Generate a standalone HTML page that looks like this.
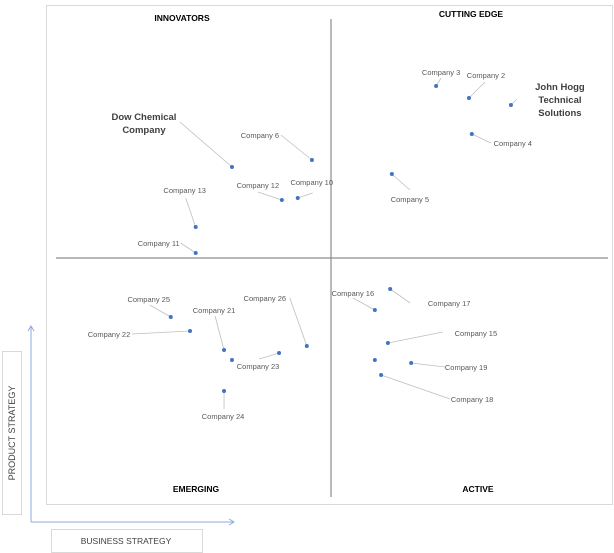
<!DOCTYPE html>
<html><head><meta charset="utf-8"><style>
body{margin:0;background:#fff;width:614px;height:553px;overflow:hidden;font-family:"Liberation Sans",sans-serif}
svg{display:block}
</style></head><body>
<svg id="chart" width="614" height="553" viewBox="0 0 614 553" xmlns="http://www.w3.org/2000/svg">
<rect x="46.5" y="5.5" width="566" height="499" fill="#fff" stroke="#d9d9d9"/>
<line x1="331" y1="19" x2="331" y2="497" stroke="#8c8c8c" stroke-width="1.2"/>
<line x1="56" y1="258" x2="608" y2="258" stroke="#8c8c8c" stroke-width="1.2"/>
<g font-weight="bold" font-size="8.5" fill="#000" text-anchor="middle">
<text x="182" y="21">INNOVATORS</text>
<text x="471" y="17">CUTTING EDGE</text>
<text x="196" y="492">EMERGING</text>
<text x="478" y="492">ACTIVE</text>
</g>
<g stroke="#8faadc" fill="none" stroke-width="1">
<line x1="31" y1="522" x2="31" y2="327"/>
<polyline points="28,331 31,326 34,331"/>
<line x1="31" y1="522" x2="234" y2="522"/>
<polyline points="229,519 234,522 229,525"/>
</g>
<rect x="2.5" y="351.5" width="19" height="163" fill="#fff" stroke="#d9d9d9"/>
<text transform="translate(15,433) rotate(-90)" text-anchor="middle" font-size="9" fill="#404040">PRODUCT STRATEGY</text>
<rect x="51.5" y="529.5" width="151" height="23" fill="#fff" stroke="#d9d9d9"/>
<text x="126" y="544" text-anchor="middle" font-size="8.5" fill="#404040">BUSINESS STRATEGY</text>
<g id="marks"></g>
</svg>
<script>
const companies=["John Hogg|Technical|Solutions","Company 2","Company 3","Company 4","Company 5","Company 6","Dow Chemical|Company","Company 12","Company 10","Company 13","Company 11","Company 25","Company 22","Company 21","","Company 23","Company 26","Company 24","Company 16","Company 17","Company 15","","Company 19","Company 18"];
const businessScores=[8.20,7.46,6.88,7.51,6.10,4.69,3.28,4.16,4.44,2.64,2.64,2.20,2.54,3.14,3.28,4.11,4.60,3.14,5.80,6.07,6.03,5.80,6.44,5.91];
const productScores=[8.00,8.14,8.38,7.42,6.62,6.90,6.76,6.10,6.14,5.56,5.04,3.76,3.48,3.10,2.90,3.04,3.18,2.28,3.90,4.32,3.24,2.90,2.84,2.60];
// label placement offsets (px, relative to point): label center dx,dy ; leader end lx,ly
const labelDX=[49,17,5,41,18,-52,-88,-24,14,-11,-37,-22,-81,-10,0,-21,-42,-1,-22,59,88,0,55,91];
const labelDY=[-18,-23,-14,9,25,-25,-50,-15,-16,-37,-10,-18,3,-40,0,13,-48,25,-17,14,-10,0,4,24];
const leadDX=[6,16,5,19,18,-31,-52,-24,15,-10,-15,-21,-58,-9,0,-20,-17,0,-22,20,55,0,34,69];
const leadDY=[-6,-16,-8,9,16,-25,-45,-8,-5,-29,-10,-12,3,-34,0,6,-48,18,-12,14,-11,0,4,24];
const xs=v=>46+v*56.7, ys=v=>505-v*50;
const g=document.getElementById('marks');const NS="http://www.w3.org/2000/svg";
companies.forEach((name,i)=>{
 const px=xs(businessScores[i]),py=ys(productScores[i]);
 if(name){
  const big=name.includes('|');
  const ln=document.createElementNS(NS,'line');
  
  
  ln.setAttribute('x1',px);ln.setAttribute('y1',py);
  ln.setAttribute('x2',px+leadDX[i]);ln.setAttribute('y2',py+leadDY[i]);
  ln.setAttribute('stroke','#bfbfbf');ln.setAttribute('stroke-width','0.8');
  g.appendChild(ln);
  const t=document.createElementNS(NS,'text');
  
  
  t.setAttribute('text-anchor','middle');
  t.setAttribute('font-size',big?'9.5':'7.5');
  t.setAttribute('fill',big?'#404040':'#595959');
  if(big)t.setAttribute('font-weight','bold');
  const parts=name.split('|');
  parts.forEach((p,k)=>{const s=document.createElementNS(NS,'tspan');s.setAttribute('x',px+labelDX[i]);s.setAttribute('y',py+labelDY[i]+3+k*13);s.textContent=p;t.appendChild(s);});
  g.appendChild(t);
 }
});
companies.forEach((name,i)=>{
 const c=document.createElementNS(NS,'circle');
 
 
 c.setAttribute('cx',xs(businessScores[i]));c.setAttribute('cy',ys(productScores[i]));
 c.setAttribute('r','2');c.setAttribute('fill','#4472c4');
 g.appendChild(c);
});
</script>
</body></html>
